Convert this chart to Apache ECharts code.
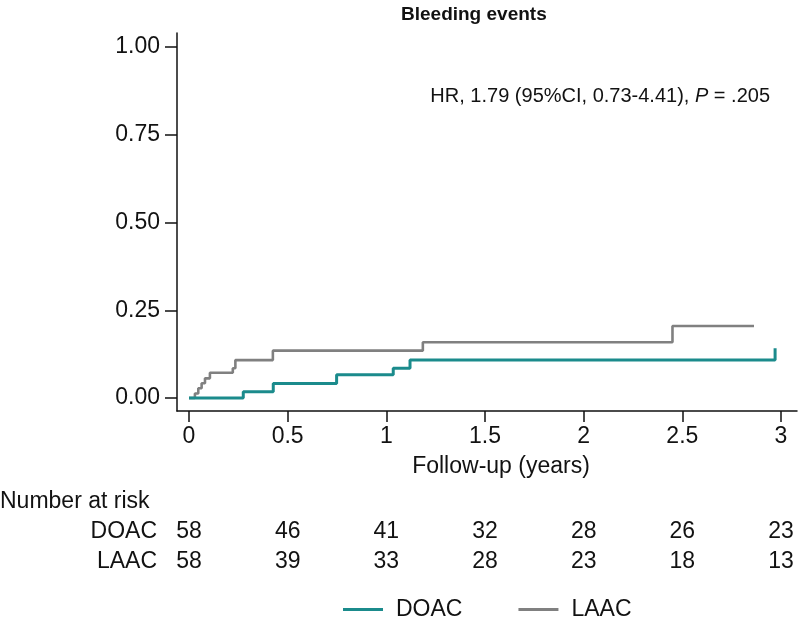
<!DOCTYPE html>
<html>
<head>
<meta charset="utf-8">
<script src="https://cdn.jsdelivr.net/npm/echarts@6/dist/echarts.min.js"></script>
<style>html,body{margin:0;padding:0;background:#fff}#c{width:800px;height:618px}</style>
</head>
<body>
<div id="c"></div>
<script>
// Data
const xTicks = [0, 0.5, 1, 1.5, 2, 2.5, 3];
const xTickLabels = ['0', '0.5', '1', '1.5', '2', '2.5', '3'];
const yTicks = [0, 0.25, 0.5, 0.75, 1];
const yTickLabels = ['0.00', '0.25', '0.50', '0.75', '1.00'];

const doacTime = [0, 0.275, 0.427, 0.748, 1.035, 1.12, 2.97];
const doacCum  = [0, 0.018, 0.041, 0.066, 0.085, 0.108, 0.142];

const laacTime = [0, 0.030, 0.047, 0.064, 0.081, 0.106, 0.222, 0.235, 0.425, 1.185, 2.45, 2.863];
const laacCum  = [0, 0.013, 0.028, 0.042, 0.056, 0.072, 0.085, 0.108, 0.135, 0.159, 0.205, 0.205];

const doacAtRisk = [58, 46, 41, 32, 28, 26, 23];
const laacAtRisk = [58, 39, 33, 28, 23, 18, 13];

const seriesNames = ['DOAC', 'LAAC'];
const colors = ['#1b8b8c', '#808080'];
const titleText = 'Bleeding events';
const xName = 'Follow-up (years)';
const hrText = ['HR, 1.79 (95%CI, 0.73-4.41), ', 'P', ' = .205'];

const FONT = 'Liberation Sans, Arial, Helvetica, sans-serif';
const TXT = '#121212';
const FS = 23;

function zip(a, b) { return a.map((v, i) => [v, b[i]]); }
function lookup(ticks, arr) {
  return function (v) {
    const i = ticks.findIndex(t => Math.abs(t - v) < 1e-6);
    return i >= 0 ? String(arr[i]) : '';
  };
}

const XMIN = -0.0608, XMAX = 3.081;
const chart = echarts.init(document.getElementById('c'), null, { renderer: 'canvas' });

const riskAxis = (arr, offset) => ({
  type: 'value', gridIndex: 0, position: 'bottom', offset: offset,
  min: XMIN, max: XMAX,
  axisLine: { show: false }, axisTick: { show: false }, splitLine: { show: false },
  axisLabel: {
    customValues: xTicks, formatter: lookup(xTicks, arr), margin: 0,
    fontSize: FS, color: TXT, fontFamily: FONT
  }
});

chart.setOption({
  animation: false,
  backgroundColor: '#fff',
  title: {
    text: titleText, left: 396, top: 0,
    textStyle: { fontSize: 19, fontWeight: 'bold', color: TXT, fontFamily: FONT }
  },
  grid: { left: 177, right: 3, top: 33, bottom: 207, containLabel: false },
  xAxis: [
    {
      type: 'value', min: XMIN, max: XMAX,
      axisLine: { show: true, onZero: false, lineStyle: { color: '#111', width: 1.5 } },
      axisTick: { show: true, customValues: xTicks, length: 11, lineStyle: { color: '#111', width: 1.5 } },
      axisLabel: {
        customValues: xTicks, margin: 14, formatter: lookup(xTicks, xTickLabels),
        fontSize: FS, color: TXT, fontFamily: FONT
      },
      splitLine: { show: false }
    },
    riskAxis(doacAtRisk, 109),
    riskAxis(laacAtRisk, 139)
  ],
  yAxis: {
    type: 'value', min: -0.037, max: 1.0399,
    axisLine: { show: true, onZero: false, lineStyle: { color: '#111', width: 1.5 } },
    axisTick: { show: true, customValues: yTicks, length: 12, lineStyle: { color: '#111', width: 1.5 } },
    axisLabel: {
      customValues: yTicks, margin: 17, formatter: lookup(yTicks, yTickLabels),
      fontSize: FS, color: TXT, fontFamily: FONT
    },
    splitLine: { show: false }
  },
  legend: {
    left: 338, top: 593, itemWidth: 40, itemHeight: 3, itemGap: 56,
    icon: 'rect',
    textStyle: { fontSize: FS, color: TXT, fontFamily: FONT, padding: [0, 0, 0, 8] },
    data: seriesNames
  },
  series: [
    {
      name: seriesNames[0], type: 'line', step: 'end', showSymbol: false, symbol: 'none',
      data: zip(doacTime, doacCum), color: colors[0],
      lineStyle: { color: colors[0], width: 3 }, z: 3
    },
    {
      name: seriesNames[1], type: 'line', step: 'end', showSymbol: false, symbol: 'none',
      data: zip(laacTime, laacCum), color: colors[1],
      lineStyle: { color: colors[1], width: 2.6 }, z: 2
    }
  ],
  graphic: [
    {
      type: 'text', right: 30, top: 86,
      style: {
        text: '{n|' + hrText[0] + '}{i|' + hrText[1] + '}{n|' + hrText[2] + '}',
        rich: {
          n: { fontSize: 20, fontFamily: FONT, fill: TXT },
          i: { fontSize: 20, fontFamily: FONT, fill: TXT, fontStyle: 'italic' }
        }
      }
    },
    {
      type: 'text', x: 501, y: 467,
      style: { text: xName, fontSize: FS, fontFamily: FONT, fill: TXT, align: 'center', verticalAlign: 'middle' }
    },
    {
      type: 'text', x: 0, y: 502,
      style: { text: 'Number at risk', fontSize: FS, fontFamily: FONT, fill: TXT, align: 'left', verticalAlign: 'middle' }
    },
    {
      type: 'text', x: 157, y: 532,
      style: { text: seriesNames[0], fontSize: FS, fontFamily: FONT, fill: TXT, align: 'right', verticalAlign: 'middle' }
    },
    {
      type: 'text', x: 157, y: 562,
      style: { text: seriesNames[1], fontSize: FS, fontFamily: FONT, fill: TXT, align: 'right', verticalAlign: 'middle' }
    }
  ]
});
</script>
</body>
</html>
